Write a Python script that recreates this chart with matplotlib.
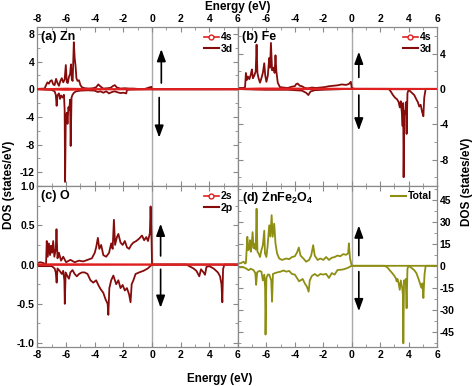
import numpy as np
import matplotlib
matplotlib.use("Agg")
import matplotlib.pyplot as plt
from matplotlib.lines import Line2D
from matplotlib.ticker import MultipleLocator, FixedLocator, FixedFormatter

plt.rcParams['font.family'] = ['Liberation Sans', 'DejaVu Sans']
plt.rcParams['font.weight'] = 'bold'
plt.rcParams['mathtext.default'] = 'bf'

# ---------------------------------------------------------------
# data: (energy eV, DOS)
# ---------------------------------------------------------------
zn_3d_up = np.array([
    (-8, 0.05), (-7.5, 0.1), (-7.4, 0.6), (-7.3, 1.0), (-7.2, 0.8), (-7.1, 1.2), (-7.0, 1.3),
    (-6.9, 0.7), (-6.8, 0.6), (-6.7, 1.5), (-6.6, 0.9), (-6.5, 0.5), (-6.4, 1.2), (-6.3, 1.6),
    (-6.2, 1.0), (-6.1, 1.4), (-6.02, 3.5), (-5.95, 1.0), (-5.88, 0.9), (-5.8, 1.8), (-5.72, 2.2),
    (-5.66, 3.6), (-5.6, 1.4), (-5.54, 1.2), (-5.46, 6.8), (-5.4, 4.5), (-5.34, 3.4), (-5.28, 1.6),
    (-5.2, 1.2), (-5.1, 1.3), (-5.0, 0.6), (-4.9, 0.3), (-4.7, 0.15), (-4.4, 0.1), (-4.1, 0.15),
    (-3.9, 0.3), (-3.75, 0.7), (-3.6, 0.4), (-3.4, 0.1), (-3.1, 0.15), (-2.9, 0.2), (-2.7, 0.5),
    (-2.6, 0.6), (-2.45, 0.25), (-2.2, 0.1), (-1.9, 0.15), (-1.6, 0.1), (-1.3, 0.1), (-1.0, 0.05),
    (-0.5, 0.05), (-0.05, 0.35), (0.0, 0), (6, 0)])
zn_3d_dn = np.array([
    (-8, 0), (-7.5, -0.05), (-7.0, -0.1), (-6.8, -0.3), (-6.72, -0.8), (-6.66, -2.4), (-6.6, -0.9),
    (-6.5, -0.6), (-6.42, -1.4), (-6.35, -0.9), (-6.25, -1.2), (-6.15, -0.8), (-6.1, -3.0),
    (-6.07, -13.4), (-6.02, -4.0), (-5.95, -3.4), (-5.9, -5.0), (-5.84, -2.6), (-5.78, -3.0),
    (-5.72, -1.5), (-5.68, -8.2), (-5.62, -1.2), (-5.55, -0.8), (-5.45, -0.5), (-5.3, -0.3),
    (-5.0, -0.2), (-4.5, -0.15), (-4.0, -0.2), (-3.8, -0.4), (-3.6, -0.3), (-3.4, -0.5),
    (-3.2, -0.3), (-3.0, -0.6), (-2.8, -0.4), (-2.6, -0.3), (-2.4, -0.45), (-2.2, -0.55),
    (-2.0, -0.5), (-1.8, -0.6), (-1.75, -0.1), (-1.5, -0.05), (0, 0), (6, 0)])
zn_4s_up = np.array([(-8, 0), (-7, 0.05), (-6, 0.1), (-5.5, 0.08), (-4, 0.03), (0, 0.02), (2, 0.02), (6, 0)])
zn_4s_dn = np.array([(-8, 0), (-7, -0.05), (-6, -0.1), (-5.5, -0.08), (-4, -0.03), (0, -0.02), (2, -0.02), (6, 0)])

fe_3d_up = np.array([
    (-8, 0.1), (-7.6, 0.1), (-7.5, 0.2), (-7.44, 1.8), (-7.38, 1.0), (-7.3, 1.4), (-7.2, 1.1),
    (-7.1, 1.6), (-7.02, 2.2), (-6.95, 1.2), (-6.85, 1.5), (-6.75, 2.0), (-6.69, 5.0), (-6.63, 1.8),
    (-6.55, 1.2), (-6.45, 0.7), (-6.35, 1.2), (-6.25, 1.8), (-6.15, 2.9), (-6.08, 1.5), (-6.0, 0.8),
    (-5.9, 1.5), (-5.8, 3.5), (-5.74, 2.4), (-5.68, 5.2), (-5.6, 2.1), (-5.5, 2.4), (-5.42, 1.8),
    (-5.36, 3.8), (-5.3, 2.0), (-5.2, 0.7), (-5.05, 0.2), (-4.8, 0.15), (-4.5, 0.1), (-4.2, 0.25),
    (-4.0, 0.3), (-3.9, 0.55), (-3.8, 0.6), (-3.65, 0.35), (-3.5, 0.3), (-3.3, 0.1), (-3.1, 0.05),
    (-2.8, 0.15), (-2.5, 0.1), (-2.2, 0.15), (-1.9, 0.2), (-1.6, 0.3), (-1.3, 0.35), (-1.0, 0.4),
    (-0.7, 0.5), (-0.4, 0.45), (-0.2, 0.55), (-0.06, 0.8), (0, 0.1), (0.2, 0), (6, 0)])
fe_3d_dn = np.array([
    (-8, 0), (-7.5, -0.05), (-6, -0.1), (-4.5, -0.1), (-4.0, -0.15), (-3.5, -0.2), (-3.2, -0.45),
    (-3.05, -0.7), (-2.9, -0.3), (-2.6, -0.15), (-2, -0.1), (-1, -0.05), (0, 0), (2.6, 0),
    (2.75, -0.3), (2.9, -0.7), (3.05, -1.0), (3.2, -1.2), (3.3, -1.5), (3.38, -2.1), (3.45, -1.4),
    (3.52, -2.6), (3.58, -4.2), (3.62, -1.6), (3.65, -10.0), (3.7, -2.5), (3.76, -2.8), (3.82, -1.5),
    (3.86, -5.1), (3.92, -0.5), (4.0, -0.1), (4.2, -0.4), (4.4, -0.7), (4.55, -1.2), (4.65, -1.5),
    (4.75, -2.0), (4.85, -1.8), (4.95, -2.6), (5.04, -3.1), (5.1, -1.0), (5.2, 0), (6, 0)])
fe_4s_up = np.array([(-8, 0), (-6.5, 0.05), (-5.5, 0.05), (0, 0.02), (6, 0)])
fe_4s_dn = np.array([(-8, 0), (-6.5, -0.05), (-5.5, -0.05), (0, -0.02), (3.6, -0.05), (6, 0)])

o_2p_up = np.array([
    (-8, 0.02), (-7.8, 0.03), (-7.6, 0.02), (-7.4, 0.0), (-7.35, 0.3), (-7.28, 0.1), (-7.2, 0.27),
    (-7.12, 0.12), (-7.05, 0.24), (-6.98, 0.15), (-6.9, 0.3), (-6.82, 0.1), (-6.72, 0.2),
    (-6.67, 0.45), (-6.6, 0.08), (-6.5, 0.15), (-6.35, 0.05), (-6.2, 0.1), (-6.0, 0.03), (-5.7, 0.06),
    (-5.4, 0.03), (-5.1, 0.05), (-4.8, 0.04), (-4.5, 0.06), (-4.2, 0.08), (-4.0, 0.15), (-3.9, 0.22),
    (-3.78, 0.34), (-3.68, 0.2), (-3.55, 0.25), (-3.4, 0.12), (-3.2, 0.1), (-3.0, 0.15),
    (-2.85, 0.27), (-2.75, 0.2), (-2.66, 0.57), (-2.58, 0.25), (-2.45, 0.35), (-2.35, 0.39),
    (-2.2, 0.28), (-2.05, 0.25), (-1.9, 0.3), (-1.75, 0.22), (-1.6, 0.2), (-1.45, 0.25), (-1.3, 0.28),
    (-1.1, 0.3), (-0.9, 0.33), (-0.7, 0.37), (-0.55, 0.31), (-0.4, 0.35), (-0.28, 0.3), (-0.15, 0.4),
    (-0.1, 0.74), (-0.03, 0.3), (0.0, 0.0), (6, 0)])
o_2p_dn = np.array([
    (-8, -0.02), (-7.0, -0.02), (-6.8, -0.05), (-6.72, -0.1), (-6.66, -0.23), (-6.6, -0.05),
    (-6.45, -0.08), (-6.3, -0.12), (-6.2, -0.08), (-6.12, -0.2), (-6.09, -0.5), (-6.03, -0.1),
    (-5.9, -0.15), (-5.8, -0.18), (-5.7, -0.1), (-5.55, -0.07), (-5.4, -0.12), (-5.25, -0.15),
    (-5.1, -0.12), (-4.9, -0.1), (-4.7, -0.1), (-4.5, -0.12), (-4.3, -0.2), (-4.1, -0.23),
    (-3.9, -0.2), (-3.75, -0.26), (-3.6, -0.31), (-3.4, -0.36), (-3.25, -0.44), (-3.1, -0.5),
    (-3.05, -0.64), (-2.98, -0.3), (-2.85, -0.2), (-2.7, -0.14), (-2.5, -0.25), (-2.35, -0.2),
    (-2.2, -0.3), (-2.05, -0.26), (-1.9, -0.33), (-1.75, -0.3), (-1.6, -0.38), (-1.5, -0.48),
    (-1.42, -0.25), (-1.3, -0.2), (-1.15, -0.12), (-0.9, -0.1), (-0.6, -0.08), (-0.3, -0.05),
    (0, 0), (2.4, 0), (2.6, -0.02), (2.9, -0.05), (3.1, -0.08), (3.3, -0.15), (3.42, -0.06),
    (3.6, -0.1), (3.7, -0.13), (3.8, -0.03), (4.0, -0.02), (4.3, -0.05), (4.6, -0.1), (4.75, -0.15),
    (4.85, -0.25), (4.91, -0.48), (4.96, -0.06), (5.05, 0), (6, 0)])
o_2s_up = np.array([(-8, 0), (-7, 0.005), (-6, 0.005), (0, 0.002), (6, 0)])
o_2s_dn = np.array([(-8, 0), (-7, -0.005), (-6, -0.005), (0, -0.002), (6, 0)])

tot_up = np.array([
    (-8, 1.5), (-7.8, 1.8), (-7.6, 2.8), (-7.5, 1.5), (-7.44, 2.0), (-7.34, 19.8), (-7.28, 10.7),
    (-7.2, 12), (-7.16, 17.5), (-7.1, 9.6), (-7.04, 14), (-6.97, 23), (-6.9, 12), (-6.82, 15),
    (-6.75, 11), (-6.69, 39), (-6.63, 9.6), (-6.55, 8.5), (-6.45, 6), (-6.35, 10.7), (-6.25, 14),
    (-6.15, 24), (-6.1, 8.5), (-6.0, 6), (-5.92, 13), (-5.8, 27.7), (-5.72, 20), (-5.63, 34.6),
    (-5.56, 19.8), (-5.45, 28.8), (-5.36, 15.3), (-5.25, 8.5), (-5.1, 5), (-4.9, 4), (-4.6, 5),
    (-4.4, 4.5), (-4.2, 6), (-4.0, 6.5), (-3.85, 9), (-3.72, 12.5), (-3.6, 7), (-3.4, 5),
    (-3.2, 2.8), (-3.0, 4), (-2.85, 7), (-2.71, 14.1), (-2.6, 7), (-2.4, 4), (-2.2, 5), (-2.0, 4),
    (-1.8, 6), (-1.6, 4), (-1.4, 5.5), (-1.2, 6), (-1.0, 7), (-0.8, 6.5), (-0.6, 8), (-0.4, 7.5),
    (-0.25, 8.5), (-0.2, 15.3), (-0.12, 5), (0, 0), (6, 0)])
tot_dn = np.array([
    (-8, -1), (-7.6, -1), (-7.4, -2), (-7.25, -3), (-7.1, -2), (-6.9, -3), (-6.78, -5),
    (-6.72, -13), (-6.65, -4.5), (-6.5, -3.5), (-6.35, -4), (-6.25, -10), (-6.15, -6), (-6.09, -15),
    (-6.06, -47), (-6.0, -8.3), (-5.9, -6), (-5.8, -6), (-5.66, -10), (-5.6, -24.5), (-5.54, -5.6),
    (-5.4, -5), (-5.2, -4.4), (-5.0, -4), (-4.8, -3.2), (-4.6, -4), (-4.4, -3.5), (-4.2, -5.6),
    (-4.0, -6), (-3.85, -8.3), (-3.7, -10.6), (-3.45, -9), (-3.3, -12), (-3.15, -14.3),
    (-3.03, -17.7), (-2.95, -10), (-2.8, -6.9), (-2.6, -5.6), (-2.4, -7), (-2.2, -5.6), (-2.0, -6),
    (-1.8, -5.5), (-1.6, -8.3), (-1.4, -5), (-1.2, -6), (-1.0, -2.9), (-0.6, -2.5), (-0.3, -1.5),
    (0, 0), (2.3, 0), (2.5, -1), (2.67, -3), (2.85, -5), (3.0, -6.9), (3.1, -8.5), (3.16, -10.6),
    (3.22, -9), (3.3, -12), (3.38, -16.4), (3.45, -10), (3.55, -15), (3.6, -20), (3.63, -53),
    (3.68, -10), (3.75, -12), (3.8, -9), (3.86, -29), (3.92, -2), (4.0, 0), (4.2, -1.4), (4.4, -3),
    (4.55, -5), (4.7, -9), (4.8, -12), (4.9, -15), (4.97, -12), (5.04, -22), (5.12, -6), (5.2, 0),
    (6, 0)])

panel_labels = ['(a) Zn', '(b) Fe', '(c) O', r'(d) ZnFe$_\mathregular{2}$O$_\mathregular{4}$']
ylims = [(-14, 9), (-11, 7), (-1.05, 1.0), (-55.5, 54.5)]
yticks = [[8, 4, 0, -4, -8, -12], [4, 0, -4, -8], [1.0, 0.5, 0.0, -0.5, -1.0],
          [45, 30, 15, 0, -15, -30, -45]]
yminor = [2, 2, 0.25, 7.5]
ytick_labels = [['8', '4', '0', '-4', '-8', '-12'], ['4', '0', '-4', '-8'],
                ['1.0', '0.5', '0.0', '-0.5', '-1.0'], ['45', '30', '15', '0', '-15', '-30', '-45']]
# arrows (x, tail, head) for spin up / spin down
arrows_up = [(0.65, 0.9, 5.8), (0.5, 1.3, 4.2), (0.6, 0.11, 0.52), (0.5, 7, 27.5)]
arrows_dn = [(0.5, -1.2, -7.0), (0.5, -0.7, -4.7), (0.6, -0.06, -0.55), (0.5, -4, -31)]

dark = '#860c0c'
red = '#e02020'
olive = '#8e8e12'
spine = '#8a8a8a'

fig = plt.figure(figsize=(4.74, 3.86), dpi=100)
x0, xm, x1 = 0.079, 0.502, 0.922
y0, ym, y1 = 0.101, 0.518, 0.930
axa = fig.add_axes([x0, ym, xm - x0, y1 - ym])
axb = fig.add_axes([xm, ym, x1 - xm, y1 - ym])
axc = fig.add_axes([x0, y0, xm - x0, ym - y0])
axd = fig.add_axes([xm, y0, x1 - xm, ym - y0])
axes = [axa, axb, axc, axd]

pdos = [(zn_4s_up, zn_4s_dn, zn_3d_up, zn_3d_dn, '4s', '3d'),
        (fe_4s_up, fe_4s_dn, fe_3d_up, fe_3d_dn, '4s', '3d'),
        (o_2s_up, o_2s_dn, o_2p_up, o_2p_dn, '2s', '2p')]

for i, ax in enumerate(axes):
    ax.axvline(0, color='#a8a8a8', lw=1.0, zorder=1)
    if i < 3:
        s_up, s_dn, p_up, p_dn, ls, lp = pdos[i]
        ax.plot(p_up[:, 0], p_up[:, 1], color=dark, lw=1.3, zorder=2)
        ax.plot(p_dn[:, 0], p_dn[:, 1], color=dark, lw=1.3, zorder=2)
        ax.plot(s_up[:, 0], s_up[:, 1], color=red, lw=1.3, zorder=3)
        ax.plot(s_dn[:, 0], s_dn[:, 1], color=red, lw=1.3, zorder=3)
        handles = [Line2D([], [], color=red, lw=1.2, marker='o', ms=3.5, mfc='white', mec=red),
                   Line2D([], [], color=dark, lw=1.5)]
        ax.legend(handles, [ls, lp], loc='upper right', frameon=False, fontsize=7.5,
                  handlelength=1.4, handletextpad=0.2, labelspacing=0.15,
                  borderaxespad=0.3, borderpad=0.2)
    else:
        ax.plot(tot_up[:, 0], tot_up[:, 1], color=olive, lw=1.3, zorder=2)
        ax.plot(tot_dn[:, 0], tot_dn[:, 1], color=olive, lw=1.3, zorder=2)
        ax.legend([Line2D([], [], color=olive, lw=1.5)], ['Total'], loc='upper right',
                  frameon=False, fontsize=7.5, handlelength=1.4, handletextpad=0.2,
                  borderaxespad=0.3, borderpad=0.2)

    for xa, ta, ha in (arrows_up[i], arrows_dn[i]):
        ax.annotate('', xy=(xa, ha), xytext=(xa, ta),
                    arrowprops=dict(arrowstyle='-|>,head_length=0.6,head_width=0.22',
                                    color='black', lw=1.2, mutation_scale=12,
                                    shrinkA=0, shrinkB=0))

    ax.text(0.02, 0.975, panel_labels[i], transform=ax.transAxes, va='top', ha='left',
            fontsize=9, fontweight='bold')

    ax.set_xlim(-8, 6)
    ax.set_ylim(*ylims[i])
    xt = list(range(-8, 7, 2))
    xl = [str(v) for v in xt]
    if i in (1, 3):
        xl[0] = ''
    ax.xaxis.set_major_locator(FixedLocator(xt))
    ax.xaxis.set_major_formatter(FixedFormatter(xl))
    ax.xaxis.set_minor_locator(MultipleLocator(1))
    ax.yaxis.set_major_locator(FixedLocator(yticks[i]))
    ax.yaxis.set_major_formatter(FixedFormatter(ytick_labels[i]))
    ax.yaxis.set_minor_locator(MultipleLocator(yminor[i]))

    top_row = i < 2
    right_col = i in (1, 3)
    ax.tick_params(which='both', direction='in', top=True, bottom=True, left=True, right=True,
                   color=spine, labelsize=7.5, pad=2,
                   labeltop=top_row, labelbottom=not top_row,
                   labelleft=not right_col, labelright=right_col)
    ax.tick_params(which='major', length=3.5, width=0.8)
    ax.tick_params(which='minor', length=2, width=0.6)
    for sp in ax.spines.values():
        sp.set_color(spine)
        sp.set_linewidth(0.9)
    for lab in ax.get_xticklabels() + ax.get_yticklabels():
        lab.set_fontweight('bold')

fig.text(0.502, 0.982, 'Energy (eV)', ha='center', va='center', fontsize=8.5, fontweight='bold')
fig.text(0.464, 0.018, 'Energy (eV)', ha='center', va='center', fontsize=8.5, fontweight='bold')
fig.text(0.018, 0.52, 'DOS (states/eV)', rotation=90, ha='center', va='center',
         fontsize=8.5, fontweight='bold')
fig.text(0.985, 0.528, 'DOS (states/eV)', rotation=90, ha='center', va='center',
         fontsize=8.5, fontweight='bold')

fig.savefig('out.png', dpi=100, facecolor='white')
